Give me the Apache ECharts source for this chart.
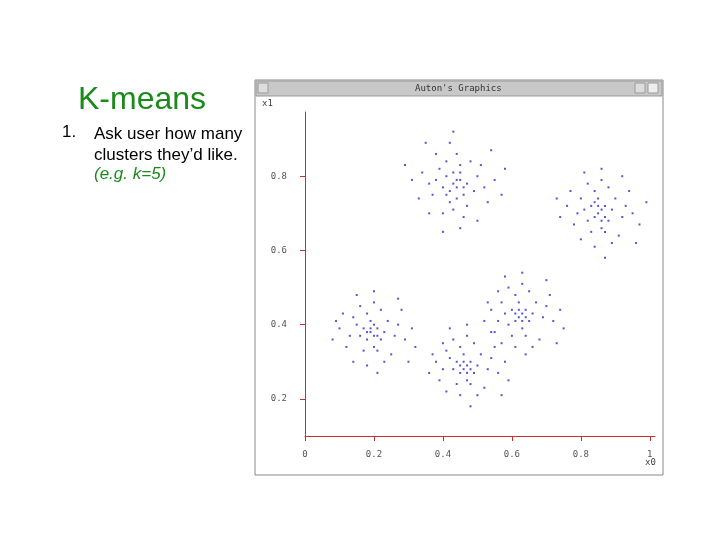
<!DOCTYPE html>
<html><head><meta charset="utf-8">
<script src="https://cdn.jsdelivr.net/npm/echarts@6/dist/echarts.min.js"></script>
<style>html,body{margin:0;background:#fff}#c{width:720px;height:540px}</style>
</head><body><div id="c"></div>
<script>
const xTicks = [0, 0.2, 0.4, 0.6, 0.8, 1];
const yTicks = [0.2, 0.4, 0.6, 0.8];
const clusterA = [[0.43,0.78],[0.44,0.77],[0.42,0.76],[0.45,0.79],[0.41,0.80],[0.46,0.75],[0.43,0.81],[0.40,0.77],[0.47,0.78],[0.44,0.74],[0.42,0.73],[0.38,0.79],[0.49,0.76],[0.45,0.83],[0.41,0.84],[0.37,0.75],[0.50,0.80],[0.43,0.71],[0.47,0.72],[0.39,0.82],[0.36,0.78],[0.52,0.77],[0.44,0.86],[0.40,0.70],[0.48,0.84],[0.34,0.81],[0.53,0.73],[0.46,0.69],[0.38,0.86],[0.51,0.83],[0.33,0.74],[0.55,0.79],[0.42,0.89],[0.45,0.66],[0.31,0.79],[0.57,0.75],[0.36,0.70],[0.50,0.68],[0.43,0.92],[0.29,0.83],[0.58,0.82],[0.40,0.65],[0.54,0.87],[0.35,0.89],[0.44,0.79],[0.46,0.77],[0.41,0.75],[0.45,0.81]];
const clusterB = [[0.85,0.70],[0.86,0.71],[0.84,0.69],[0.87,0.72],[0.83,0.72],[0.88,0.68],[0.85,0.74],[0.82,0.68],[0.89,0.71],[0.86,0.66],[0.81,0.71],[0.90,0.74],[0.84,0.76],[0.87,0.65],[0.79,0.70],[0.92,0.69],[0.83,0.65],[0.88,0.77],[0.80,0.74],[0.93,0.72],[0.86,0.79],[0.78,0.67],[0.91,0.64],[0.82,0.78],[0.95,0.70],[0.76,0.72],[0.89,0.62],[0.84,0.61],[0.94,0.76],[0.77,0.76],[0.97,0.67],[0.80,0.63],[0.86,0.82],[0.74,0.69],[0.92,0.80],[0.99,0.73],[0.87,0.58],[0.73,0.74],[0.96,0.62],[0.81,0.81],[0.85,0.72],[0.87,0.69],[0.84,0.73],[0.86,0.68]];
const clusterC = [[0.19,0.38],[0.20,0.37],[0.18,0.36],[0.21,0.39],[0.17,0.39],[0.22,0.36],[0.19,0.41],[0.16,0.37],[0.23,0.38],[0.20,0.34],[0.15,0.40],[0.24,0.41],[0.18,0.43],[0.21,0.33],[0.13,0.37],[0.26,0.37],[0.17,0.33],[0.22,0.44],[0.14,0.42],[0.27,0.40],[0.20,0.46],[0.12,0.34],[0.25,0.32],[0.16,0.45],[0.29,0.36],[0.10,0.39],[0.23,0.30],[0.18,0.29],[0.28,0.44],[0.11,0.43],[0.31,0.39],[0.14,0.30],[0.20,0.49],[0.08,0.36],[0.27,0.47],[0.32,0.34],[0.21,0.27],[0.09,0.41],[0.30,0.30],[0.15,0.48],[0.19,0.39],[0.21,0.37],[0.18,0.38],[0.20,0.40]];
const clusterD = [[0.62,0.42],[0.63,0.43],[0.61,0.41],[0.64,0.44],[0.60,0.44],[0.65,0.41],[0.62,0.46],[0.59,0.40],[0.66,0.43],[0.63,0.39],[0.58,0.43],[0.67,0.46],[0.61,0.48],[0.64,0.37],[0.56,0.41],[0.69,0.42],[0.60,0.37],[0.65,0.49],[0.57,0.46],[0.70,0.45],[0.63,0.51],[0.55,0.38],[0.68,0.36],[0.59,0.50],[0.72,0.41],[0.54,0.44],[0.66,0.34],[0.61,0.34],[0.71,0.48],[0.56,0.49],[0.74,0.44],[0.57,0.35],[0.63,0.54],[0.52,0.41],[0.70,0.52],[0.75,0.39],[0.64,0.32],[0.53,0.46],[0.73,0.35],[0.58,0.53],[0.62,0.44],[0.64,0.42],[0.61,0.43],[0.63,0.41]];
const clusterE = [[0.46,0.28],[0.47,0.29],[0.45,0.27],[0.48,0.30],[0.44,0.30],[0.49,0.27],[0.46,0.32],[0.43,0.28],[0.50,0.29],[0.47,0.25],[0.42,0.31],[0.51,0.32],[0.45,0.34],[0.48,0.24],[0.40,0.28],[0.53,0.28],[0.44,0.24],[0.49,0.35],[0.41,0.33],[0.54,0.31],[0.47,0.37],[0.39,0.25],[0.52,0.23],[0.43,0.36],[0.56,0.27],[0.38,0.30],[0.50,0.21],[0.45,0.21],[0.55,0.34],[0.40,0.35],[0.58,0.30],[0.41,0.22],[0.47,0.40],[0.36,0.27],[0.54,0.38],[0.59,0.25],[0.48,0.18],[0.37,0.32],[0.57,0.21],[0.42,0.39],[0.46,0.30],[0.48,0.28],[0.45,0.29],[0.47,0.27]];
const points = [].concat(clusterA, clusterB, clusterC, clusterD, clusterE);

const chart = echarts.init(document.getElementById('c'));
const mono = 'DejaVu Sans Mono';
chart.setOption({
  animation:false,
  backgroundColor:'#fff',
  graphic:[
    {type:'text',left:78,top:84,style:{text:'K-means',fill:'#1a8a1a',font:'32px "Liberation Sans"'}},
    {type:'text',left:62,top:124,style:{text:'1.',fill:'#000',font:'17px "Liberation Sans"'}},
    {type:'text',left:94,top:124,style:{text:'Ask user how many\nclusters they\u2019d like.',fill:'#000',font:'17px "Liberation Sans"',lineHeight:21}},
    {type:'text',left:94,top:166,style:{text:'(e.g. k=5)',fill:'#1a8a1a',font:'italic 17px "Liberation Sans"'}},
    {type:'rect',shape:{x:255,y:80,width:408,height:395},style:{fill:'none',stroke:'#888',lineWidth:1}},
    {type:'rect',shape:{x:256,y:81,width:406,height:15},style:{fill:'#c8c8c8',stroke:'#999'}},
    {type:'rect',shape:{x:258,y:83,width:10,height:10},style:{fill:'#ddd',stroke:'#999'}},
    {type:'rect',shape:{x:635,y:83,width:10,height:10},style:{fill:'#ddd',stroke:'#999'}},
    {type:'rect',shape:{x:648,y:83,width:10,height:10},style:{fill:'#eee',stroke:'#999'}},
    {type:'text',left:415,top:84,style:{text:"Auton's Graphics",fill:'#333',font:'9px "'+mono+'"'}},
    {type:'text',left:262,top:99,style:{text:'x1',fill:'#444',font:'9px "'+mono+'"'}},
    {type:'text',left:645,top:458,style:{text:'x0',fill:'#444',font:'9px "'+mono+'"'}}
  ],
  grid:{left:305,right:65,top:112,bottom:104},
  xAxis:{type:'value',min:0,max:1.015,splitLine:{show:false},
    axisLine:{onZero:false,lineStyle:{color:'#c83030'}},
    axisTick:{customValues:xTicks,length:5,inside:false,lineStyle:{color:'#c83030'}},
    axisLabel:{customValues:xTicks,color:'#555',fontFamily:mono,fontSize:9,margin:14,formatter:v=>String(+v.toFixed(1))}},
  yAxis:{type:'value',min:0.1,max:0.973,splitLine:{show:false},
    axisLine:{onZero:false,lineStyle:{color:'#c83030'}},
    axisTick:{customValues:yTicks,length:5,lineStyle:{color:'#c83030'}},
    axisLabel:{customValues:yTicks,color:'#555',fontFamily:mono,fontSize:9,margin:18,formatter:v=>String(+v.toFixed(1))}},
  series:[{type:'scatter',data:points,symbol:'rect',symbolSize:2,itemStyle:{color:'#2a2ad0'}}]
});
</script></body></html>
